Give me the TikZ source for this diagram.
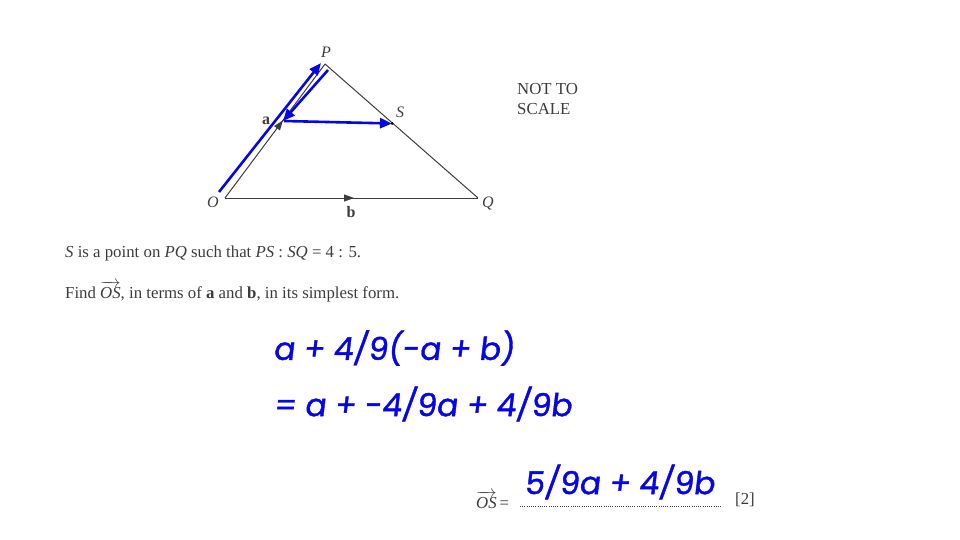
\documentclass[tikz,border=0pt]{standalone}
\usepackage{fontspec}
\setmainfont{Liberation Serif}
\newfontfamily\hand[FakeSlant=0.12,FakeBold=1.2]{Poppins}
\usetikzlibrary{arrows.meta,decorations.markings}
\definecolor{ink}{RGB}{5,5,230}
\definecolor{pen}{RGB}{60,60,60}
\newcommand{\vecos}{$\overrightarrow{\vphantom{A}\textit{OS}}$}
\begin{document}
\begin{tikzpicture}[x=1pt,y=-1pt,
  side/.style={draw=pen,line width=1pt},
  midarrow/.style={postaction={decorate},decoration={markings,mark=at position #1 with {\arrow{Triangle[length=10pt,width=7pt]}}}},
  blueline/.style={draw=ink,line width=2.6pt,-{Triangle[length=12pt,width=10pt]}},
  lbl/.style={font=\fontsize{16}{18}\selectfont\itshape,text=pen,inner sep=0pt},
  blbl/.style={font=\fontsize{16}{18}\selectfont\bfseries,text=pen,inner sep=0pt},
  body/.style={font=\fontsize{16.8}{19}\selectfont,text=pen,anchor=west,inner sep=0pt},
  handw/.style={font=\hand\fontsize{31.5}{34}\selectfont,text=ink,anchor=west,inner sep=0pt}]
\useasboundingbox (0,0) rectangle (960,540);
\coordinate (O) at (225,198);
\coordinate (P) at (325,64);
\coordinate (Q) at (478,198);
\coordinate (S) at (392,123.5);
\draw[side,midarrow=0.58] (O) -- (P);
\draw[side] (P) -- (Q);
\draw[side,midarrow=0.51] (O) -- (Q);
\fill[black] (S) circle (1.5pt);
\coordinate (b1) at (219,192);
\coordinate (b2) at (321,63);
\coordinate (c1) at (328,70);
\coordinate (c2) at (283,121);
\coordinate (d1) at (284,121);
\coordinate (d2) at (392,123.5);
\draw[blueline] (b1) -- (b2);
\draw[blueline] (c1) -- (c2);
\draw[blueline] (d1) -- (d2);
\node[lbl] (lP) at (326,52) {P};
\node[lbl] (lS) at (400,112) {S};
\node[lbl] (lQ) at (488,203) {Q};
\node[lbl] (lO) at (213,202) {O};
\node[blbl] (la) at (266,121) {a};
\node[blbl] (lb) at (351,212) {b};
\node[body,align=left,anchor=north west] (nts) at (517,83) {NOT TO\\[1pt]SCALE};
\node[body] (t1) at (65,253) {\textit{S} is a point on \textit{PQ} such that \textit{PS} : \textit{SQ} = 4 : 5.};
\node[body] (t2) at (65,292) {Find \vecos, in terms of \textbf{a} and \textbf{b}, in its simplest form.};
\node[handw] (h1) at (273,348) {a + 4/9(-a + b)};
\node[handw] (h2) at (273,404) {= a + -4/9a + 4/9b};
\node[handw] (h3) at (524,482) {5/9a + 4/9b};
\node[body] (ans) at (476,500) {\vecos\,=};
\draw[pen,line width=1pt,dash pattern=on 1pt off 1.2pt] (520,506) -- (722,506);
\node[body] (mk) at (735,500) {[2]};
\end{tikzpicture}
\end{document}
